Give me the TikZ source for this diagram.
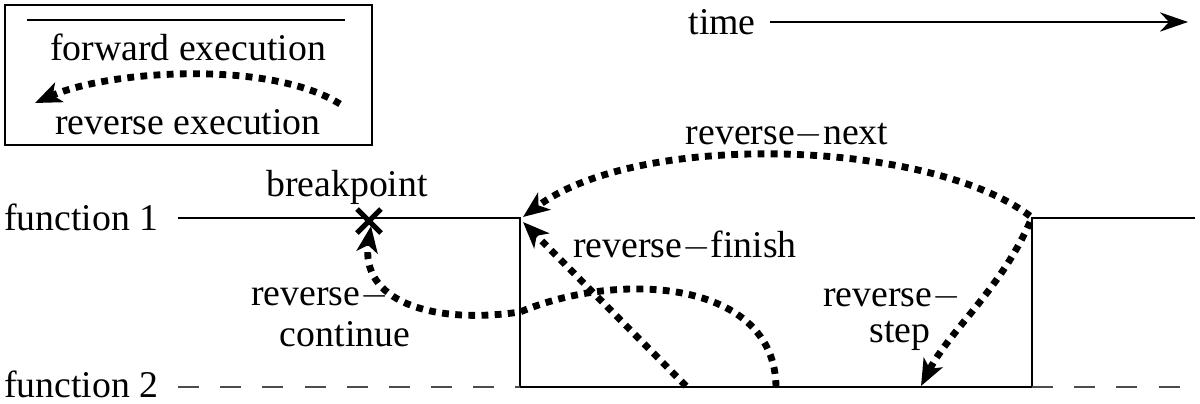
\documentclass[tikz,border=0pt]{standalone}
\usepackage{fontspec}
\setmainfont{Liberation Serif}
\newfontfamily\tms{Liberation Serif}
\usetikzlibrary{arrows.meta}
\begin{document}
\begin{tikzpicture}[x=0.02cm,y=-0.02cm,
  txt/.style={font=\tms\fontsize{21.5}{23}\selectfont,inner sep=0pt},
  rev/.style={line width=3.9pt,dash pattern=on 3.9pt off 3.6pt,-{Stealth[length=15pt,width=12pt,inset=4pt]}},
  fwd/.style={line width=0.9pt},
  dsh/.style={line width=0.7pt,dash pattern=on 12pt off 12pt,draw=black!70}]
\useasboundingbox (0,0) rectangle (1200,403);
% legend
\draw[line width=0.7pt] (5,5) rectangle (372,145);
\coordinate (l1) at (27,20); \coordinate (l2) at (345,20);
\draw[fwd] (l1) -- (l2);
\node[txt] (fe) at (188,47) {forward execution};
\coordinate (r1) at (340,104); \coordinate (r2) at (35,103);
\draw[rev] (r1) .. controls (270,60) and (110,70) .. (r2);
\node[txt] (re) at (188,122) {reverse execution};
% time
\node[txt,anchor=east] (time) at (756,22) {time};
\coordinate (t2) at (1188,22);
\draw[line width=1pt,-{Stealth[length=16pt,width=11pt]}] (time.east) ++(14,0) -- (t2);
% functions
\node[txt,anchor=west] (f1) at (4,217) {function 1};
\node[txt,anchor=west] (f2) at (4,384) {function 2};
\coordinate (a0) at (178,218); \coordinate (a1) at (520,218);
\coordinate (b1) at (1032,218); \coordinate (b2) at (1195,218);
\coordinate (c0) at (178,387); \coordinate (c1) at (520,387);
\coordinate (d1) at (1032,387); \coordinate (d2) at (1195,387);
\draw[fwd] (a0) -- (a1) -- (c1) -- (d1) -- (b1) -- (b2);
\draw[dsh] (c0) -- (c1);
\draw[dsh] (d1) -- (d2);
% breakpoint
\coordinate (bp) at (369,221);
\draw[line width=3pt] (bp) ++(-12,-12) -- ++(24,24) (bp) ++(-12,12) -- ++(24,-24);
\node[txt] (bpl) at (347,187) {breakpoint};
% reverse-next
\coordinate (n0) at (1030,216); \coordinate (n1) at (523,217);
\draw[rev] (n0) .. controls (930,140) and (640,130) .. (n1);
\node[txt] (nl) at (787,135) {reverse$-$next};
% reverse-finish
\coordinate (f0) at (686,386); \coordinate (fE) at (523,222);
\draw[rev] (f0) -- (fE);
\node[txt] (fl) at (685,246) {reverse$-$finish};
% reverse-continue
\coordinate (k0) at (776,387); \coordinate (kE) at (371,226);
\draw[rev] (k0) .. controls (775,280) and (620,270) .. (520,312)
  .. controls (430,325) and (360,300) .. (kE);
\node[txt] (kl1) at (320,296) {reverse$-$};
\node[txt] (kl2) at (345,334) {continue};
% reverse-step
\coordinate (s0) at (1030,222); \coordinate (sE) at (921,386);
\draw[rev] (s0) .. controls (1000,290) and (950,330) .. (sE);
\node[txt] (sl1) at (892,297) {reverse$-$};
\node[txt] (sl2) at (900,336) {step};
\end{tikzpicture}
\end{document}
